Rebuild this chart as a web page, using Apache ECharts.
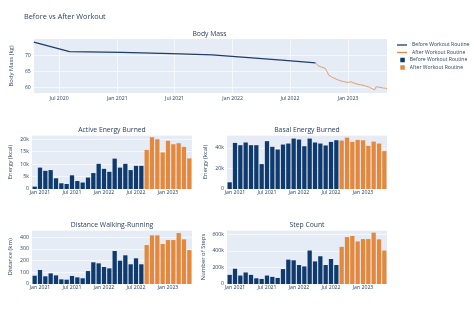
<!DOCTYPE html>
<html><head><meta charset="utf-8">
<script src="https://cdn.jsdelivr.net/npm/echarts@6/dist/echarts.min.js"></script>
<style>html,body{margin:0;padding:0;background:#fff}#c{width:474px;height:316px}</style>
</head><body><div id="c"></div>
<script>
// ---------- DATA ----------
const months = ['Dec 2020','Jan 2021','Feb 2021','Mar 2021','Apr 2021','May 2021','Jun 2021','Jul 2021','Aug 2021','Sep 2021','Oct 2021','Nov 2021','Dec 2021',
  'Jan 2022','Feb 2022','Mar 2022','Apr 2022','May 2022','Jun 2022','Jul 2022','Aug 2022','Sep 2022','Oct 2022','Nov 2022','Dec 2022',
  'Jan 2023','Feb 2023','Mar 2023','Apr 2023','May 2023'];
const xTickLabels = ['Jan 2021','Jul 2021','Jan 2022','Jul 2022','Jan 2023'];

const activeBefore = [950,8600,7300,7600,4300,2300,2000,5500,3200,2600,4600,6400,10100,8100,6900,12200,8600,10100,7600,9300,9300];
const activeAfter  = [15700,20800,20000,14700,19400,18000,18400,16900,12300];
const basalBefore  = [6500,44800,42600,45200,42600,42600,24200,46500,41000,38400,43200,44200,49000,48100,41600,49000,45200,44200,42300,45800,47400];
const basalAfter   = [47100,50000,45800,47700,47400,41900,46100,44200,36800];
const distBefore   = [71,120,66,91,74,40,37,69,57,49,111,186,177,146,134,283,200,246,169,220,169];
const distAfter    = [334,417,417,343,377,377,437,383,291];
const stepsBefore  = [110000,184000,102000,139000,110000,69000,61000,102000,86000,73000,180000,294000,286000,229000,212000,404000,273000,335000,229000,302000,229000];
const stepsAfter   = [449000,567000,580000,514000,543000,543000,620000,539000,404000];

const massBeforeDates = ['2020-04-12','2020-08-03','2021-01-15','2021-06-20','2021-10-28','2022-02-10','2022-06-05','2022-09-20'];
const massBeforeVals  = [74.0,71.1,70.85,70.45,70.05,69.3,68.4,67.6];
const massAfterDates = ['2022-09-20','2022-09-24','2022-09-28','2022-10-03','2022-10-08','2022-10-14','2022-10-20','2022-10-25','2022-10-28','2022-10-31',
  '2022-11-04','2022-11-08','2022-11-12','2022-11-16','2022-11-21','2022-11-27','2022-12-03','2022-12-10','2022-12-17','2022-12-24','2022-12-31',
  '2023-01-06','2023-01-10','2023-01-14','2023-01-20','2023-01-26','2023-02-01','2023-02-07','2023-02-13','2023-02-19','2023-02-25',
  '2023-03-03','2023-03-09','2023-03-15','2023-03-19','2023-03-23','2023-03-26','2023-03-30','2023-04-04','2023-04-09','2023-04-14',
  '2023-04-19','2023-04-24','2023-04-29','2023-05-04'];
const massAfterVals = [67.6,67.3,66.7,66.5,66.3,66.1,65.9,65.6,64.6,63.8,
  63.9,63.3,63.1,62.9,62.6,62.4,62.1,61.9,61.8,61.6,61.5,
  61.4,61.7,61.2,61.3,60.9,60.9,60.6,60.7,60.4,60.4,
  60.2,60.0,59.8,59.5,59.9,59.2,60.1,59.7,60.0,59.6,
  59.8,59.5,59.7,59.6];
const massYTicks = [60,65,70];
const massXTicks = ['2020-07-01','2021-01-01','2021-07-01','2022-01-01','2022-07-01','2023-01-01'];

// ---------- STYLE ----------
const BLUE='#0e3a6e', ORANGE='#e6883c', LBLUE='#1f3d68', LORANGE='#e0894a';
const TXT='#2a3f5f', BG='#E5ECF6', FONT='Open Sans';
const NAME_B='Before Workout Routine', NAME_A='After Workout Routine';
const MON=['Jan','Feb','Mar','Apr','May','Jun','Jul','Aug','Sep','Oct','Nov','Dec'];
const ts = s => Date.parse(s + 'T00:00:00Z');

const gridBox = [
  {left:32, top:39, width:355, height:54},
  {left:32, top:135, width:160, height:54},
  {left:227, top:135, width:160, height:54},
  {left:32, top:230, width:160, height:54},
  {left:227, top:230, width:160, height:54}
];
const barMetrics = [
  {b:activeBefore, a:activeAfter, max:21700, interval:5000, name:'Energy (kcal)', title:'Active Energy Burned', gap:19},
  {b:basalBefore, a:basalAfter, max:52500, interval:20000, name:'Energy (kcal)', title:'Basal Energy Burned', gap:19},
  {b:distBefore, a:distAfter, max:463, interval:100, name:'Distance (km)', title:'Distance Walking-Running', gap:19},
  {b:stepsBefore, a:stepsAfter, max:652000, interval:200000, name:'Number of Steps', title:'Step Count', gap:21}
];
const kfmt = v => v===0 ? '0' : (v>=1000 ? (v/1000)+'k' : String(v));
const tickFont = {fontSize:5.2, color:TXT, fontFamily:FONT};
const nameFont = {fontSize:5.9, color:TXT, fontFamily:FONT};
const splitL = {show:true, lineStyle:{color:'#ffffff', width:0.6}};

const grids = gridBox.map(g => Object.assign({show:true, backgroundColor:BG, borderWidth:0, containLabel:false}, g));
const xTickVals = massXTicks.map(ts);
const xAxes = [{
  type:'value', gridIndex:0, min:ts('2020-04-12'), max:ts('2023-05-04'),
  axisLine:{show:false}, axisTick:{show:false, customValues:xTickVals},
  axisLabel:Object.assign({customValues:xTickVals, margin:3, formatter:v=>{const d=new Date(v);return MON[d.getUTCMonth()]+' '+d.getUTCFullYear();}}, tickFont),
  splitLine:splitL
}];
const yAxes = [{
  type:'value', gridIndex:0, min:58.2, max:75,
  name:'Body Mass (kg)', nameLocation:'middle', nameGap:18, nameTextStyle:nameFont,
  axisLine:{show:false}, axisTick:{show:false, customValues:massYTicks},
  axisLabel:Object.assign({customValues:massYTicks, margin:3}, tickFont),
  splitLine:splitL
}];
const series = [];
barMetrics.forEach((m,i) => {
  const gi = i+1;
  xAxes.push({
    type:'category', gridIndex:gi, data:months,
    axisLine:{show:false}, axisTick:{show:false},
    axisLabel:Object.assign({interval:(idx,val)=>xTickLabels.includes(val), margin:1.5}, tickFont),
    splitLine:{show:false}
  });
  yAxes.push({
    type:'value', gridIndex:gi, min:0, max:m.max, interval:m.interval,
    name:m.name, nameLocation:'middle', nameGap:m.gap, nameTextStyle:nameFont,
    axisLine:{show:false}, axisTick:{show:false},
    axisLabel:Object.assign({margin:3, showMaxLabel:false, formatter:kfmt}, tickFont),
    splitLine:splitL
  });
  series.push({
    type:'bar', name:NAME_B, xAxisIndex:gi, yAxisIndex:gi,
    data:m.b.concat(m.a.map(()=>'-')), itemStyle:{color:BLUE},
    barGap:'-100%', barCategoryGap:'20%', silent:true
  });
  series.push({
    type:'bar', name:NAME_A, xAxisIndex:gi, yAxisIndex:gi,
    data:m.b.map(()=>'-').concat(m.a), itemStyle:{color:ORANGE},
    barGap:'-100%', barCategoryGap:'20%', silent:true
  });
});
series.push({
  type:'line', name:NAME_B, xAxisIndex:0, yAxisIndex:0, showSymbol:false,
  data:massBeforeDates.map((d,i)=>[ts(d), massBeforeVals[i]]),
  lineStyle:{color:LBLUE, width:1.3}, itemStyle:{color:LBLUE}
});
series.push({
  type:'line', name:NAME_A, xAxisIndex:0, yAxisIndex:0, showSymbol:false,
  data:massAfterDates.map((d,i)=>[ts(d), massAfterVals[i]]),
  lineStyle:{color:LORANGE, width:0.8}, itemStyle:{color:LORANGE}
});

const subTitles = [{t:'Body Mass', g:0}].concat(barMetrics.map((m,i)=>({t:m.title, g:i+1})));
const graphics = subTitles.map(s => {
  const g = gridBox[s.g];
  return {type:'text', x:g.left+g.width/2, y:g.top-4.5,
    style:{text:s.t, fill:TXT, font:'6.8px "Open Sans"', textAlign:'center', textVerticalAlign:'middle'}};
});
graphics.push({type:'text', x:24, y:17, style:{text:'Before vs After Workout', fill:TXT, font:'7.3px "Open Sans"', textAlign:'left', textVerticalAlign:'middle'}});

const legendText = {fontSize:5.1, color:TXT, fontFamily:FONT, lineHeight:7};
const option = {
  animation:false,
  textStyle:{fontFamily:FONT},
  grid:grids, xAxis:xAxes, yAxis:yAxes, series:series, graphic:graphics,
  legend:[
    {left:397, top:41.5, padding:0, orient:'vertical', icon:'rect', itemWidth:10, itemHeight:1.3, itemGap:0.5, selectedMode:false,
     data:[{name:NAME_B, itemStyle:{color:LBLUE}}, {name:NAME_A, itemStyle:{color:LORANGE}}], textStyle:legendText},
    {left:400.3, top:56.5, padding:0, orient:'vertical', icon:'rect', itemWidth:4.5, itemHeight:4.5, itemGap:0.5, selectedMode:false,
     data:[{name:NAME_B, itemStyle:{color:BLUE}}, {name:NAME_A, itemStyle:{color:ORANGE}}], textStyle:legendText}
  ]
};
const chart = echarts.init(document.getElementById('c'), null, {renderer:'canvas'});
chart.setOption(option);
</script></body></html>
